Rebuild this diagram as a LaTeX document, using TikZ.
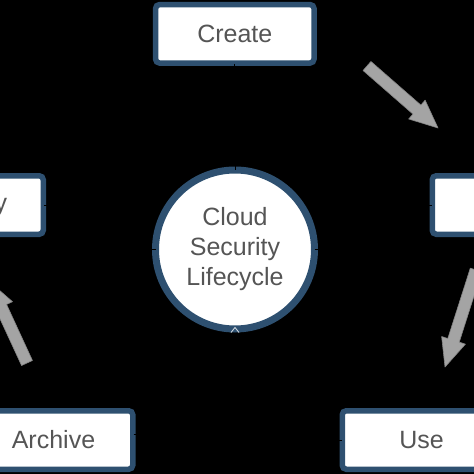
\documentclass[tikz,border=0pt]{standalone}
\usepackage{fontspec}
\setmainfont{Liberation Sans}
\usetikzlibrary{calc}
\definecolor{bordblue}{HTML}{2E5070}
\definecolor{txtgray}{HTML}{555555}
\definecolor{arrgray}{HTML}{A4A4A4}
\tikzset{
  stagebox/.style={draw=bordblue, line width=5.5pt, fill=white, rounded corners=4pt,
    minimum width=158.5pt, minimum height=58.5pt, inner sep=0pt,
    text=txtgray, font=\fontsize{25}{30}\selectfont},
  hubcircle/.style={circle, draw=bordblue, line width=7pt, fill=white,
    minimum size=159pt, inner sep=0pt, align=center,
    text=txtgray, font=\fontsize{25}{30}\selectfont},
  blockfill/.style={fill=arrgray, draw=arrgray!80!black, line width=0.6pt, line join=round},
  magnet/.style={draw=black, line width=0.9pt}
}
\newcommand\blockarrow[2]{%
  \coordinate (bab) at ($(#2)!28pt!(#1)$);
  \path[blockfill] ($(#1)!6pt!90:(#2)$) -- ($(bab)!6pt!90:(#2)$) -- ($(bab)!12.5pt!90:(#2)$)
    -- (#2) -- ($(bab)!12.5pt!-90:(#2)$) -- ($(bab)!6pt!-90:(#2)$) -- ($(#1)!6pt!-90:(#2)$) -- cycle;}
\begin{document}
\begin{tikzpicture}[x=1pt,y=-1pt]
\useasboundingbox (0,0) rectangle (474,474);
\fill[black] (0,0) rectangle (474,474);
\clip (0,0) rectangle (474,474);
% stages
\node[stagebox] (create) at (234.8,33.8) {Create};
\node[stagebox] (store) at (511.5,205) {};
\node[stagebox] (use) at (421.5,440) {Use};
\node[stagebox] (archive) at (53.5,440) {Archive};
\node[stagebox] (destroy) at (-36,205) {Destroy};
% hub
\node[hubcircle] (hub) at (235,249.5) {Cloud\\Security\\Lifecycle};
% magnets
\draw[magnet] (hub.north) ++(0,-3.5) -- ++(0,7);
\draw[magnet] (hub.west) ++(-3.5,0) -- ++(7,0);
\draw[magnet] (hub.east) ++(-3.5,0) -- ++(7,0);
\draw[draw=white!80!bordblue, line width=0.8pt] (hub.south) ++(-4,0) -- ++(4,-5) -- ++(4,5);
\draw[magnet] (create.south) ++(0,-2) -- ++(0,5);
\draw[magnet] (store.west) ++(-3,0) -- ++(5,0);
\draw[magnet] (destroy.east) ++(-2,0) -- ++(5,0);
\draw[magnet] (use.west) ++(-3,0) -- ++(5,0);
\draw[magnet] (archive.east) ++(-2,-6) -- ++(5,0);
% block arrows
\coordinate (a1t) at (367,66);
\coordinate (a1h) at (438,128);
\coordinate (a2t) at (476,270);
\coordinate (a2h) at (445,367);
\coordinate (a3t) at (27,363);
\coordinate (a3h) at (-10.6,281.5);
\blockarrow{a1t}{a1h}
\blockarrow{a2t}{a2h}
\blockarrow{a3t}{a3h}
\end{tikzpicture}
\end{document}
